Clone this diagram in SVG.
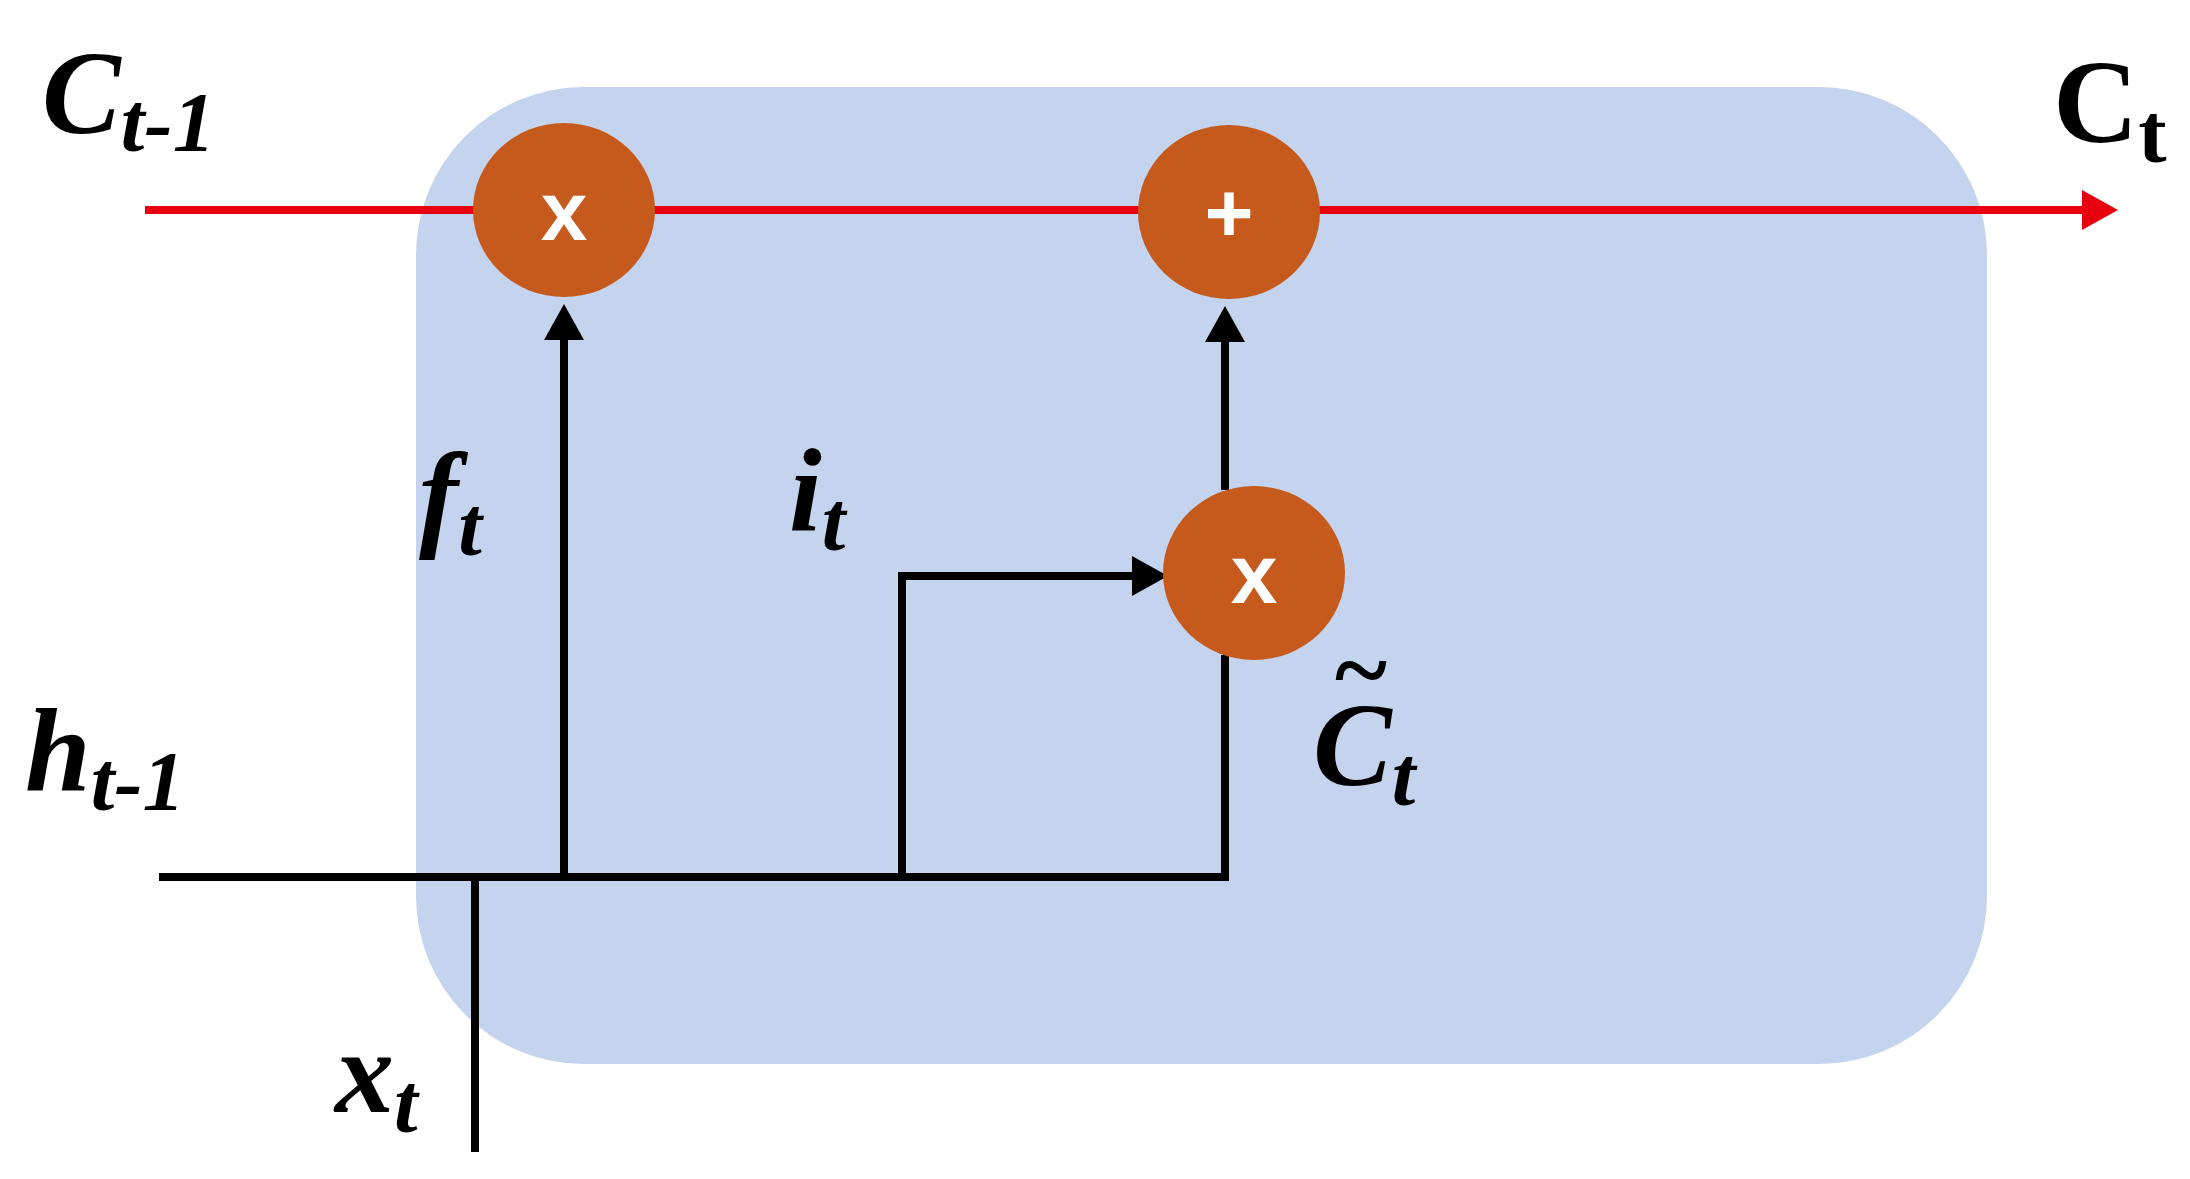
<svg xmlns="http://www.w3.org/2000/svg" width="2190" height="1179" viewBox="0 0 2190 1179">
<defs>
<style>
.lbl{font-family:"Liberation Serif",serif;font-weight:bold;font-style:italic;font-size:118px;fill:#000}
.sub{font-size:85px}
.op{font-family:"Liberation Sans",sans-serif;font-weight:bold;font-size:84px;fill:#fff;text-anchor:middle}
.blk{stroke:#000;stroke-width:8;fill:none}
.node{fill:#C55A1C}
</style>
<marker id="ab" markerWidth="5" markerHeight="5" refX="3.5" refY="2.5" orient="auto" markerUnits="strokeWidth"><path d="M0,0L4.5,2.5L0,5z" fill="#000"/></marker>
<marker id="ar" markerWidth="5" markerHeight="5" refX="3.5" refY="2.5" orient="auto" markerUnits="strokeWidth"><path d="M0,0L4.5,2.5L0,5z" fill="#E8000F"/></marker>
</defs>
<rect id="cell" x="416" y="87" width="1571" height="977" rx="168" fill="#C5D4EE"/>
<g id="connectors">
<line x1="145" y1="210" x2="2110" y2="210" stroke="#E8000F" stroke-width="8" marker-end="url(#ar)"/>
<line class="blk" x1="159" y1="877" x2="1229" y2="877"/>
<line class="blk" x1="475" y1="877" x2="475" y2="1152"/>
<line class="blk" x1="564" y1="877" x2="564" y2="312" marker-end="url(#ab)"/>
<polyline class="blk" points="902,877 902,576 1160,576" marker-end="url(#ab)"/>
<line class="blk" x1="1225" y1="877" x2="1225" y2="655"/>
<line class="blk" x1="1225" y1="490" x2="1225" y2="314" marker-end="url(#ab)"/>
</g>
<g id="mul1"><ellipse class="node" cx="564" cy="210" rx="91" ry="87"/><text class="op" x="564" y="240">x</text></g>
<g id="add"><ellipse class="node" cx="1229" cy="212" rx="91" ry="87"/><text class="op" x="1229" y="242">+</text></g>
<g id="mul2"><ellipse class="node" cx="1254" cy="573" rx="91" ry="87"/><text class="op" x="1254" y="603">x</text></g>
<g id="labels">
<text class="lbl" x="42" y="133">C<tspan class="sub" dy="18">t-1</tspan></text>
<text class="lbl" x="2053" y="142" style="font-style:normal">C<tspan class="sub" dy="20">t</tspan></text>
<text class="lbl" x="419" y="535">f<tspan class="sub" dy="20">t</tspan></text>
<text class="lbl" x="789" y="530">i<tspan class="sub" dy="20">t</tspan></text>
<text class="lbl" x="25" y="790">h<tspan class="sub" dy="20">t-1</tspan></text>
<text class="lbl" x="335" y="1112">x<tspan class="sub" dy="20">t</tspan></text>
<text class="lbl" x="1313" y="785">C<tspan class="sub" dy="20">t</tspan></text>
<text class="lbl" x="1335" y="703" style="font-size:100px;font-style:normal">~</text>
</g>
</svg>
